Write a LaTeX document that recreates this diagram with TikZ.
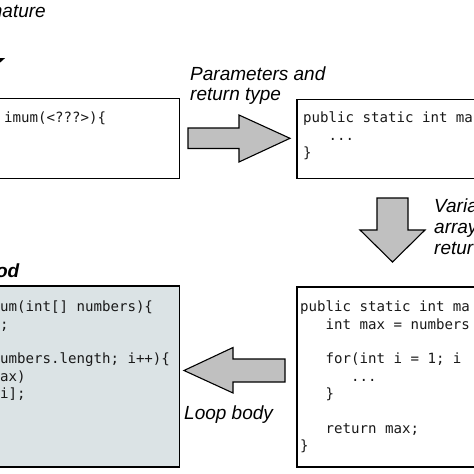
\documentclass[tikz,border=0pt]{standalone}
\usepackage{fontspec}
\setmainfont{Liberation Sans}
\newfontfamily\codefont{DejaVu Sans Mono}
\usetikzlibrary{arrows.meta}
\definecolor{arrowgray}{RGB}{192,192,192}
\definecolor{boxfill}{RGB}{219,227,229}
\definecolor{codeink}{RGB}{25,25,25}
\newcommand\codestrut{\rule{0pt}{12pt}}
\newcommand\lblstrut{\rule{0pt}{15pt}}
\newcommand\ind[1]{\hphantom{#1}}
\begin{document}
\begin{tikzpicture}[x=1pt,y=-1pt,
  box/.style={draw=black, line width=1.4pt},
  code/.style={anchor=north west, inner sep=0pt, align=left, text=codeink,
    font=\codefont\fontsize{14.1}{17.3}\selectfont},
  lbl/.style={anchor=north west, inner sep=0pt, align=left,
    font=\itshape\fontsize{19}{20}\selectfont},
  blockarrow/.style={draw=black, fill=arrowgray, line width=1.1pt, line join=miter},
]
\useasboundingbox (0,0) rectangle (474,474);
\fill[white] (0,0) rectangle (474,474);

% boxes
\draw[box] (-220,98.5) rectangle (179.5,178.5);
\draw[box] (297,99.5) rectangle (700,178.5);
\draw[box] (297,287) rectangle (700,467);
\draw[box, fill=boxfill] (-220,286) rectangle (179.5,467);

% code (the parts inside the picture)
\node[code] (c1) at (4,110.5) {\codestrut imum(<???>)\{};
\node[code] (c2) at (303,110.5) {\codestrut public static int ma\\
\ind{000}...\\
\}};
\node[code] (c3) at (300,299.7) {\codestrut public static int ma\\
\ind{000}int max = numbers\\
\codestrut\\
\ind{000}for(int i = 1; i\\
\ind{000000}...\\
\ind{000}\}\\
\codestrut\\
\ind{000}return max;\\
\}};
\node[code] (c4) at (0,299.7) {\codestrut um(int[] numbers)\{\\
;\\
\codestrut\\
umbers.length; i++)\{\\
ax)\\
i];};

% block arrows
\draw[blockarrow] (188,128) -- (239,128) -- (239,115) -- (290,138.3) -- (239,162) -- (239,148.5) -- (188,148.5) -- cycle;
\draw[blockarrow] (377,198) -- (408,198) -- (408,230) -- (425,230) -- (392.5,262) -- (360,230) -- (377,230) -- cycle;
\draw[blockarrow] (285,359) -- (233,359) -- (233,347.5) -- (184,370.5) -- (233,393) -- (233,382) -- (285,382) -- cycle;

% labels
\node[lbl] (l1) at (190,65) {\lblstrut Parameters and\\return type};
\node[lbl, font=\itshape\fontsize{19}{21}\selectfont] (l2) at (434,197.7) {\lblstrut Varia\\array\\retur};
\node[lbl] (l3) at (184,404) {\lblstrut Loop body};
\node[anchor=base east, inner sep=0pt, font=\itshape\fontsize{19}{20}\selectfont] (sig) at (46,17) {nature};
\node[anchor=base east, inner sep=0pt, font=\bfseries\itshape\fontsize{19}{20}\selectfont] (full) at (19.5,277) {od};

% small arrow under signature label
\coordinate (sigfrom) at (-1.5,28);
\coordinate (sigtip) at (-1.5,64);
\draw[line width=1pt, -{Triangle[length=6pt,width=13pt]}] (sigfrom) -- (sigtip);
\end{tikzpicture}
\end{document}
